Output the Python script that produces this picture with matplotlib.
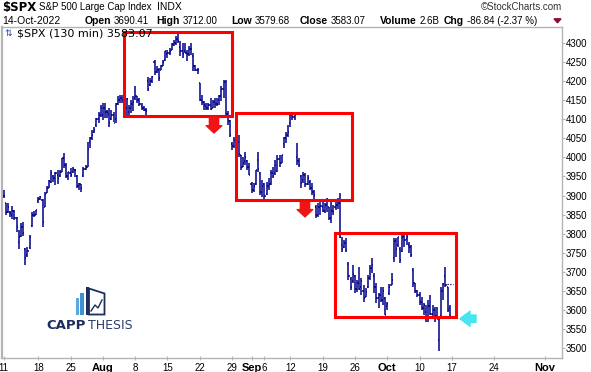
import numpy as np
import matplotlib
matplotlib.use('Agg')
import matplotlib.pyplot as plt
from matplotlib.collections import LineCollection
from matplotlib.patches import Rectangle, Polygon

plt.rcParams['font.family'] = ['Liberation Sans', 'DejaVu Sans']

# 130-minute bars, $SPX, last bar of 8 Jul then 11 Jul .. 14 Oct 2022 (3 bars / day)
highs = [
    3915,
    3880, 3880, 3860, 3873, 3862, 3845, 3810, 3828, 3830, 3762, 3765, 3797, 3857, 3860, 3863,
    3896, 3899, 3890, 3909, 3925, 3941, 3967, 3954, 3962, 3967, 3967, 3999, 4012, 3985, 3962,
    3972, 3975, 3970, 3954, 3933, 3930, 3975, 3980, 4040, 4053, 4072, 4080, 4103, 4119, 4137,
    4143, 4143, 4124, 4130, 4124, 4119, 4143, 4161, 4164, 4164, 4161, 4156, 4137, 4151, 4161,
    4187, 4161, 4156, 4143, 4135, 4130, 4211, 4208, 4213, 4255, 4240, 4234, 4242, 4255, 4279,
    4282, 4287, 4300, 4308, 4318, 4326, 4305, 4300, 4300, 4282, 4292, 4300, 4274, 4242, 4234,
    4195, 4164, 4148, 4143, 4143, 4156, 4151, 4156, 4156, 4164, 4187, 4203, 4203, 4122, 4098,
    4040, 4053, 4046, 4059, 4006, 4001, 4014, 3993, 3985, 3935, 3933, 3967, 4014, 3962, 3941,
    3933, 3935, 3946, 3967, 3975, 3993, 4006, 4006, 4006, 4053, 4067, 4085,
    4116, 4116, 4111, 4038, 3999, 3954, 3962, 3959, 3954, 3941, 3933, 3914, 3875, 3880, 3883,
    3888, 3880, 3893, 3870, 3888, 3875, 3883, 3893, 3907, 3791, 3783, 3788, 3726, 3686, 3718,
    3692, 3678, 3713, 3684, 3665, 3657, 3692, 3718, 3736, 3697, 3671, 3644, 3660, 3660, 3634,
    3620, 3668, 3697, 3789, 3789, 3791, 3765, 3796, 3804, 3802, 3778, 3770, 3710, 3671, 3652,
    3647, 3634, 3618, 3613, 3626, 3639, 3613, 3608, 3608, 3579, 3660, 3671, 3712, 3660, 3613]

lows = [
    3894,
    3849, 3854, 3844, 3838, 3835, 3805, 3760, 3791, 3795, 3718, 3739, 3760, 3817, 3844, 3849,
    3880, 3888, 3817, 3870, 3907, 3920, 3933, 3935, 3928, 3930, 3949, 3962, 3972, 3945, 3941,
    3949, 3959, 3949, 3920, 3914, 3909, 3949, 3967, 3975, 4025, 4046, 4064, 4080, 4090, 4106,
    4098, 4103, 4103, 4080, 4098, 4093, 4090, 4137, 4143, 4143, 4122, 4111, 4108, 4117, 4122,
    4151, 4143, 4135, 4124, 4122, 4111, 4174, 4187, 4195, 4216, 4221, 4200, 4229, 4240, 4253,
    4261, 4269, 4282, 4292, 4295, 4300, 4266, 4261, 4274, 4253, 4266, 4269, 4227, 4227, 4218,
    4148, 4137, 4124, 4124, 4124, 4124, 4130, 4130, 4135, 4137, 4148, 4156, 4108, 4085, 4053,
    4019, 4025, 4025, 4001, 3967, 3975, 3980, 3967, 3954, 3907, 3909, 3928, 3962, 3901, 3896,
    3888, 3901, 3914, 3928, 3946, 3954, 3962, 3975, 3985, 4025, 4038, 4053,
    4080, 4098, 4098, 3980, 3975, 3920, 3933, 3922, 3928, 3914, 3901, 3888, 3841, 3844, 3849,
    3857, 3854, 3857, 3836, 3828, 3849, 3862, 3865, 3789, 3752, 3762, 3752, 3678, 3652, 3670,
    3644, 3647, 3652, 3639, 3621, 3634, 3657, 3678, 3697, 3644, 3618, 3605, 3621, 3613, 3587,
    3600, 3640, 3665, 3726, 3739, 3765, 3723, 3752, 3765, 3770, 3749, 3739, 3660, 3644, 3634,
    3613, 3600, 3587, 3568, 3568, 3587, 3579, 3568, 3577, 3491, 3581, 3626, 3660, 3595, 3580]

opens = [
    3898,
    3880, 3858, 3857, 3850, 3860, 3842, 3779, 3795, 3818, 3760, 3745, 3762, 3820, 3850, 3850,
    3885, 3890, 3888, 3870, 3907, 3920, 3935, 3952, 3945, 3955, 3950, 3962, 3998, 3980, 3950,
    3960, 3962, 3968, 3950, 3925, 3930, 3950, 3970, 3975, 4040, 4050, 4066, 4085, 4100, 4110,
    4110, 4130, 4120, 4115, 4100, 4110, 4100, 4140, 4150, 4155, 4150, 4130, 4120, 4130, 4140,
    4155, 4160, 4150, 4135, 4130, 4125, 4200, 4190, 4200, 4250, 4225, 4230, 4230, 4240, 4255,
    4270, 4275, 4282, 4295, 4300, 4310, 4290, 4280, 4280, 4275, 4270, 4285, 4266, 4240, 4230,
    4195, 4150, 4145, 4135, 4130, 4138, 4130, 4145, 4140, 4150, 4160, 4180, 4198, 4115, 4095,
    4034, 4030, 4045, 4040, 4005, 3975, 3990, 3990, 3975, 3930, 3915, 3930, 3994, 3960, 3910,
    3930, 3905, 3925, 3930, 3960, 3960, 3965, 3995, 3985, 4035, 4050, 4060,
    4090, 4110, 4105, 4000, 3990, 3950, 3940, 3955, 3930, 3935, 3920, 3910, 3870, 3850, 3870,
    3870, 3860, 3875, 3870, 3840, 3860, 3871, 3875, 3880, 3770, 3765, 3775, 3720, 3682, 3675,
    3690, 3655, 3670, 3660, 3650, 3635, 3660, 3685, 3710, 3690, 3660, 3630, 3640, 3625, 3630,
    3609, 3645, 3665, 3735, 3780, 3770, 3760, 3755, 3790, 3785, 3770, 3765, 3705, 3670, 3650,
    3640, 3620, 3605, 3595, 3580, 3610, 3590, 3600, 3585, 3520, 3585, 3650, 3690, 3660, 3605]

closes = [
    3899,
    3858, 3870, 3854, 3860, 3842, 3818, 3790, 3818, 3801, 3735, 3755, 3790, 3850, 3848, 3863,
    3890, 3895, 3830, 3905, 3920, 3937, 3960, 3945, 3959, 3945, 3962, 3998, 3980, 3950, 3961,
    3955, 3970, 3966, 3925, 3930, 3921, 3970, 3975, 4023, 4050, 4060, 4072, 4100, 4110, 4130,
    4130, 4120, 4118, 4090, 4110, 4091, 4140, 4150, 4155, 4150, 4130, 4152, 4130, 4140, 4145,
    4160, 4150, 4140, 4130, 4125, 4122, 4180, 4200, 4210, 4225, 4230, 4207, 4240, 4250, 4278,
    4275, 4280, 4297, 4300, 4310, 4305, 4280, 4270, 4274, 4270, 4285, 4284, 4240, 4230, 4228,
    4150, 4145, 4138, 4130, 4138, 4128, 4145, 4140, 4141, 4160, 4180, 4199, 4115, 4095, 4058,
    4030, 4045, 4031, 4010, 3975, 3986, 4000, 3975, 3955, 3915, 3925, 3966, 3970, 3910, 3924,
    3900, 3925, 3930, 3960, 3950, 3980, 3995, 3985, 4006, 4050, 4060, 4067,
    4110, 4105, 4110, 3990, 3980, 3932, 3955, 3930, 3946, 3920, 3910, 3901, 3850, 3870, 3873,
    3860, 3875, 3890, 3840, 3860, 3856, 3875, 3880, 3790, 3760, 3775, 3758, 3690, 3660, 3693,
    3655, 3670, 3655, 3675, 3630, 3647, 3685, 3710, 3719, 3660, 3630, 3640, 3625, 3650, 3586,
    3615, 3660, 3678, 3780, 3760, 3791, 3730, 3790, 3783, 3790, 3765, 3744, 3670, 3650, 3640,
    3620, 3605, 3612, 3580, 3610, 3589, 3600, 3585, 3577, 3575, 3650, 3669, 3665, 3600, 3583]

prev_close = 3669

tick_pos = [0, 16, 31, 46, 61, 76, 91, 106, 115, 121, 133, 148, 163, 178, 193, 208, 227.5, 251]
tick_lbl = ['11', '18', '25', 'Aug', '8', '15', '22', '29', 'Sep', '6', '12', '19', '26',
            'Oct', '10', '17', '24', 'Nov']
months = ['Aug', 'Sep', 'Oct', 'Nov']

W, H = 591, 372
NAVY = '#00008a'
GRID = '#b4b4b4'


def px(x, y):
    return x / W, 1 - y / H


def main():
    fig = plt.figure(figsize=(W / 100, H / 100), dpi=100)
    fig.patch.set_facecolor('white')
    ax = fig.add_axes([2 / W, 1 - 358 / H, 560 / W, 331 / H])
    ax.set_xlim(-0.8, 259.1)
    ax.set_ylim(3473.9, 4342)

    # OHLC bars
    segs = []
    for j, (o, h, l, c) in enumerate(zip(opens, highs, lows, closes)):
        segs.append([(j, l), (j, h)])
        segs.append([(j - 0.5, o), (j, o)])
        segs.append([(j, c), (j + 0.5, c)])
    ax.add_collection(LineCollection(segs, colors=NAVY, linewidths=1.1, zorder=3))
    n = len(closes)
    ax.plot([n - 2.2, n + 0.4], [prev_close, prev_close], ls=(0, (1, 1.2)),
            color=NAVY, lw=0.9, zorder=3)

    # red boxes
    for x0, x1, y0, y1 in [(55.8, 105.9, 4108.6, 4329), (107.8, 161.6, 3888, 4116),
                           (153.7, 209.9, 3581, 3802)]:
        ax.add_patch(Rectangle((x0, y0), x1 - x0, y1 - y0, fill=False,
                               ec='#ff0000', lw=2.2, zorder=5))

    red_arrow = dict(arrowstyle='simple,head_length=0.75,head_width=1.6,tail_width=0.95',
                     mutation_scale=7, color='#f01414', shrinkA=0, shrinkB=0)
    ax.annotate('', xy=(97.6, 4064), xytext=(97.6, 4106), arrowprops=red_arrow, zorder=6)
    ax.annotate('', xy=(139.8, 3844), xytext=(139.8, 3883), arrowprops=red_arrow, zorder=6)
    cyan_arrow = dict(arrowstyle='simple,head_length=1.05,head_width=1.55,tail_width=0.75',
                      mutation_scale=7, color='#48e4f0', shrinkA=0, shrinkB=0)
    ax.annotate('', xy=(211.7, 3577), xytext=(219.2, 3577), arrowprops=cyan_arrow,
                annotation_clip=False, zorder=6)

    # axes styling
    for s in ax.spines.values():
        s.set_color(GRID)
        s.set_linewidth(1.0)
    ax.spines['left'].set_linewidth(1.6)
    ax.yaxis.tick_right()
    ax.set_yticks(np.arange(3500, 4301, 50))
    ax.tick_params(axis='y', length=2, width=0.8, color=GRID, labelsize=7, pad=1)
    ax.set_xticks(tick_pos)
    ax.set_xticklabels(tick_lbl)
    ax.tick_params(axis='x', length=3, width=0.8, color=GRID, direction='inout',
                   labelsize=7, pad=2)
    for t in ax.get_xticklabels():
        if t.get_text() in months:
            t.set_fontweight('bold')
            t.set_fontsize(8)

    # legend line inside plot
    fig.text(*px(4, 33.5), '\u21c5', fontsize=6.5, color='#2a4aa0', family='DejaVu Sans',
             va='center')
    fig.text(*px(17, 33.5), '$SPX (130 min) 3583.07', fontsize=8, family='DejaVu Sans',
             va='center', zorder=1)

    # header
    fig.text(*px(2, 7.5), '$SPX', fontsize=8.5, weight='bold', family='DejaVu Sans', va='center')
    fig.text(*px(39, 7.5), 'S&P 500 Large Cap Index', fontsize=7, va='center')
    fig.text(*px(157, 7.5), 'INDX', fontsize=7.5, va='center')
    fig.text(*px(562, 6.5), '\u00a9StockCharts.com', fontsize=7, color='#333333',
             ha='right', va='center')

    fig.text(*px(2, 20.5), '14-Oct-2022', fontsize=7.5, va='center')
    # bold label ends just before its value
    row = [('Open', 114, '3690.41'), ('High', 183, '3712.00'), ('Low', 255, '3579.68'),
           ('Close', 331, '3583.07'), ('Volume', 420, '2.6B'),
           ('Chg', 467, '-86.84 (-2.37 %)')]
    for lab, x, val in row:
        fig.text(*px(x - 3, 20.5), lab, fontsize=7.5, weight='bold', ha='right', va='center')
        fig.text(*px(x, 20.5), val, fontsize=7, va='center')
    fig.patches.append(Polygon([px(554, 18.8), px(561, 18.8), px(557.5, 22.8)], closed=True,
                               transform=fig.transFigure, color='#8b1030'))

    # logo
    def rect(x0, y0, x1, y1, c):
        fig.patches.append(Polygon([px(x0, y0), px(x1, y0), px(x1, y1), px(x0, y1)],
                                   closed=True, transform=fig.transFigure, color=c, lw=0))
    rect(76, 298, 78.8, 315, '#5aa8e0')
    rect(80, 293, 84, 315, '#3d92d4')
    rect(86, 287, 89, 315, '#1d2d5e')
    fig.patches.append(Polygon([px(89, 288.5), px(104.5, 293.5), px(104.5, 314.5), px(89, 314.5)],
                               closed=True, fill=False, transform=fig.transFigure,
                               ec='#1d2d5e', lw=1.3))
    fig.lines.append(plt.Line2D([91 / W, 95 / W, 98 / W, 102 / W],
                                [1 - 311 / H, 1 - 305 / H, 1 - 308 / H, 1 - 300 / H],
                                transform=fig.transFigure, color='#1d2d5e', lw=1.0))
    fig.text(*px(46.5, 325.5), 'CAPP', fontsize=9.5, weight='bold', family='DejaVu Sans',
             color='#1d2d5e', va='center')
    fig.text(*px(87.5, 325.5), 'THESIS', fontsize=9, family='DejaVu Sans',
             color='#2d3c6e', va='center')

    fig.savefig('out.png', dpi=100, facecolor='white')


if __name__ == '__main__':
    main()
